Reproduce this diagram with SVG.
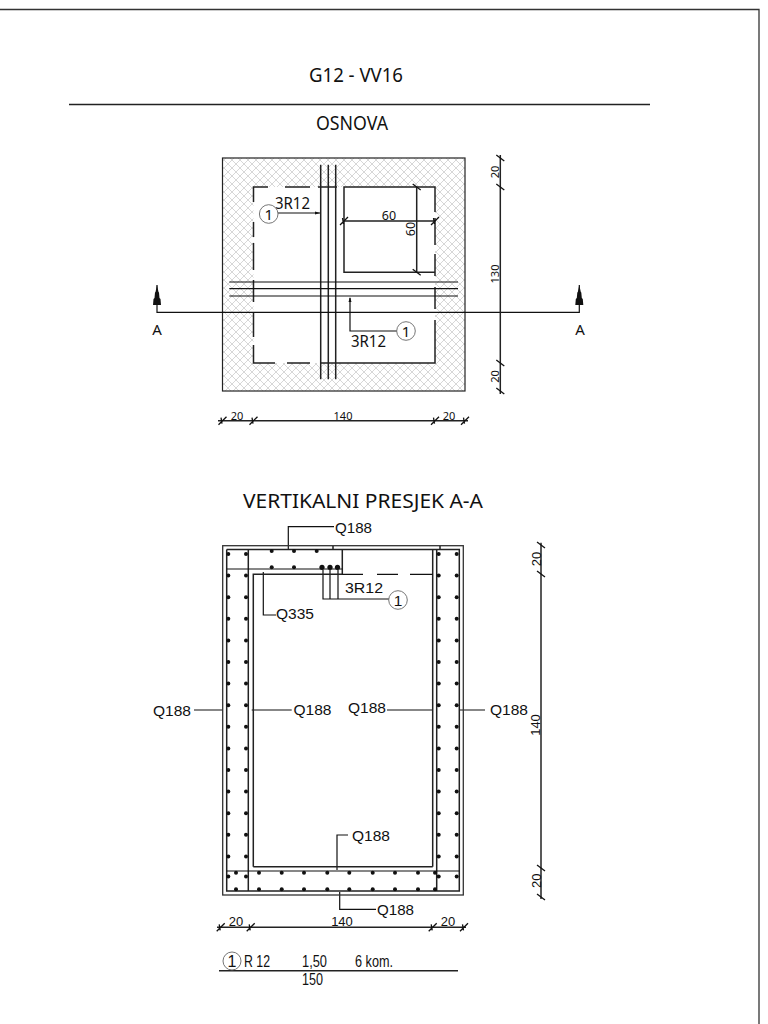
<svg xmlns="http://www.w3.org/2000/svg" width="768" height="1024" viewBox="0 0 768 1024">
<style>
.l{fill:none;stroke:#111;stroke-width:1.2}
.m{fill:none;stroke:#222;stroke-width:1.5}
.c{fill:#fff;stroke:#666;stroke-width:.9}
.t{font-family:"Noto Sans","DejaVu Sans",sans-serif;fill:#111}
.a{font-family:"Liberation Sans",Arial,sans-serif;fill:#111}
.d{fill:#111}
</style>
<defs>
<pattern id="hatch" width="8" height="8" patternUnits="userSpaceOnUse">
<path d="M0 0L8 8M8 0L0 8" stroke="#c6c6c6" stroke-width=".7" fill="none"/>
</pattern>
<path id="tick" d="M-4 4L4-4M-1.500-3L-.5 3" stroke="#111" stroke-width="1.300" fill="none"/>
<path id="tickv" d="M-4-3L4 3" stroke="#111" stroke-width="1.300" fill="none"/>
<path id="spike" d="M0-21L1.500-14L2-13.500L2.500-8L3.500-7L4-1H-4L-3.500-7L-2.500-8L-2-13.500L-1.500-14Z" fill="#111"/>
<circle id="dot" r="2" fill="#111"/>
</defs>
<rect width="768" height="1024" fill="#fff"/>
<g id="sheet">
<path d="M0 9.500H759V1024" fill="none" stroke="#333" stroke-width="1.300"/>
<path d="M69 104.500H650" class="m"/>
<text class="t" x="309" y="82" font-size="19" textLength="94" lengthAdjust="spacingAndGlyphs">G12 - VV16</text>
<text class="t" x="316" y="130" font-size="19" textLength="72" lengthAdjust="spacingAndGlyphs">OSNOVA</text>
<text class="t" x="243" y="508" font-size="20" textLength="240" lengthAdjust="spacingAndGlyphs">VERTIKALNI PRESJEK A-A</text>
</g>
<g id="plan">
<path fill="url(#hatch)" fill-rule="evenodd" d="M222.500 158H465V391H222.500ZM253.500 187V363H435V187Z"/>
<rect x="222.500" y="158" width="242.500" height="233" fill="none" stroke="#222" stroke-width="1.200"/>
<path class="m" d="M268 187H253.500V202M253.500 222V237M253.500 243V270M253.500 280V302M253.500 312V337M253.500 345V363H275M287 363H310M320.700 363H435V320M435 309V287M435 276V254M435 245V218M435 212V187H344V272.300H435M285 187H310M318 187H337"/>
<path class="m" d="M320.700 164.700V379.300M328.300 164.700V379.300M335.700 164.700V379.300"/>
<path class="l" d="M229.300 282H458M229.300 288.700H458M229.300 296H458"/>
</g>
<g id="connectors">
<path class="l" d="M157 285V312.300H579.300V285"/>
<path class="l" d="M278 213H320"/>
<path d="M320 213L315 211.500V214.500Z" fill="#111"/>
<path class="l" d="M350 298V331H397"/>
<path d="M350 297L348.500 302H351.500Z" fill="#111"/>
<path class="m" d="M344 221H435M416.700 187V272.300"/>
<path class="m" d="M500.300 155V394"/>
<path class="m" d="M218 420.700H468"/>
<use href="#spike" x="157" y="306"/>
<use href="#spike" x="579.300" y="306"/>
<path class="l" d="M323 570V599H389M330 570V599M338 570V599"/>
<path class="l" d="M288.300 549V526.700H334"/>
<path class="l" d="M263.300 572V615H276"/>
<path class="l" d="M194 710H223M251.700 710H291.700M387 710H433M460 710H485"/>
<path class="l" d="M337 870V835H348"/>
<path class="l" d="M339.700 892V909.300H376"/>
<path class="m" d="M217 927.300H466"/>
<path class="m" d="M541 542.700V899"/>
<path class="m" d="M219 970.700H458"/>
</g>
<g id="plan-ticks">
<use href="#tick" x="344" y="221"/><use href="#tick" x="435" y="221"/>
<use href="#tickv" x="416.700" y="187"/><use href="#tickv" x="416.700" y="272.300"/>
<use href="#tickv" x="500.300" y="158"/><use href="#tickv" x="500.300" y="187"/><use href="#tickv" x="500.300" y="363"/><use href="#tickv" x="500.300" y="391"/>
<use href="#tick" x="222.500" y="420.700"/><use href="#tick" x="253.500" y="420.700"/><use href="#tick" x="435" y="420.700"/><use href="#tick" x="465" y="420.700"/>
</g>
<g id="plan-labels">
<text class="t" x="275" y="209" font-size="16" textLength="35" lengthAdjust="spacingAndGlyphs">3R12</text>
<text class="t" x="351" y="346.500" font-size="16" textLength="35" lengthAdjust="spacingAndGlyphs">3R12</text>
<text class="t" x="389" y="220" font-size="12.500" text-anchor="middle">60</text>
<text class="t" font-size="12.500" text-anchor="middle" transform="translate(415 229) rotate(-90)">60</text>
<text class="t" font-size="11" text-anchor="middle" transform="translate(499 172) rotate(-90)">20</text>
<text class="t" font-size="11" text-anchor="middle" transform="translate(499 274) rotate(-90)">130</text>
<text class="t" font-size="11" text-anchor="middle" transform="translate(499 376.500) rotate(-90)">20</text>
<text class="t" x="237" y="420" font-size="11" text-anchor="middle">20</text>
<text class="t" x="343" y="420" font-size="11" text-anchor="middle">140</text>
<text class="t" x="449" y="420" font-size="11" text-anchor="middle">20</text>
<text class="t" x="157" y="334.500" font-size="15" text-anchor="middle">A</text>
<text class="t" x="580" y="334.500" font-size="15" text-anchor="middle">A</text>
</g>
<g id="marker-1a"><circle class="c" cx="268.700" cy="214" r="9.300"/><text class="t" x="268.700" y="219.500" font-size="15" text-anchor="middle">1</text></g>
<g id="marker-1b"><circle class="c" cx="406" cy="331" r="9.300"/><text class="t" x="406" y="336.500" font-size="15" text-anchor="middle">1</text></g>
<g id="section">
<rect x="222.700" y="545.700" width="240.600" height="349.300" fill="none" stroke="#333" stroke-width="1.300"/>
<path class="m" d="M226.700 549.500V891H459.300V549.500H440V546M440 549.500H333V546M333 549.500H226.700"/>
<path class="m" d="M248.300 549.500V891M253.300 866.700V574.300H342.300V549.500M253.300 866.700H432.700M432.700 549.500V866.700M436.700 549.500V891"/>
<path class="l" d="M226.700 569H342.300M226.700 871H459.300M342.300 574.300H363M377 574.300H398M410 574.300H432.700"/>
<g id="dots-top">
<use href="#dot" x="271.700" y="551"/><use href="#dot" x="294" y="551"/><use href="#dot" x="316.700" y="551"/>
<use href="#dot" x="271.700" y="567.300"/><use href="#dot" x="294" y="567.300"/>
<circle class="d" cx="322" cy="567.300" r="2.600"/><circle class="d" cx="330" cy="567.300" r="2.600"/><circle class="d" cx="337.500" cy="567.300" r="2.600"/>
</g>
<g id="dots-left">
<use href="#dot" x="228.300" y="554"/><use href="#dot" x="246" y="554"/><use href="#dot" x="228.300" y="575.600"/><use href="#dot" x="246" y="575.600"/><use href="#dot" x="228.300" y="597.200"/><use href="#dot" x="246" y="597.200"/><use href="#dot" x="228.300" y="618.800"/><use href="#dot" x="246" y="618.800"/><use href="#dot" x="228.300" y="640.400"/><use href="#dot" x="246" y="640.400"/><use href="#dot" x="228.300" y="662"/><use href="#dot" x="246" y="662"/><use href="#dot" x="228.300" y="683.600"/><use href="#dot" x="246" y="683.600"/><use href="#dot" x="228.300" y="705.200"/><use href="#dot" x="246" y="705.200"/><use href="#dot" x="228.300" y="726.800"/><use href="#dot" x="246" y="726.800"/><use href="#dot" x="228.300" y="748.400"/><use href="#dot" x="246" y="748.400"/><use href="#dot" x="228.300" y="770"/><use href="#dot" x="246" y="770"/><use href="#dot" x="228.300" y="791.600"/><use href="#dot" x="246" y="791.600"/><use href="#dot" x="228.300" y="813.200"/><use href="#dot" x="246" y="813.200"/><use href="#dot" x="228.300" y="834.800"/><use href="#dot" x="246" y="834.800"/><use href="#dot" x="228.300" y="856.400"/><use href="#dot" x="246" y="856.400"/><use href="#dot" x="228.300" y="876.500"/><use href="#dot" x="246" y="876.500"/>
</g>
<g id="dots-right">
<use href="#dot" x="438.700" y="554"/><use href="#dot" x="456.700" y="554"/><use href="#dot" x="438.700" y="575.600"/><use href="#dot" x="456.700" y="575.600"/><use href="#dot" x="438.700" y="597.200"/><use href="#dot" x="456.700" y="597.200"/><use href="#dot" x="438.700" y="618.800"/><use href="#dot" x="456.700" y="618.800"/><use href="#dot" x="438.700" y="640.400"/><use href="#dot" x="456.700" y="640.400"/><use href="#dot" x="438.700" y="662"/><use href="#dot" x="456.700" y="662"/><use href="#dot" x="438.700" y="683.600"/><use href="#dot" x="456.700" y="683.600"/><use href="#dot" x="438.700" y="705.200"/><use href="#dot" x="456.700" y="705.200"/><use href="#dot" x="438.700" y="726.800"/><use href="#dot" x="456.700" y="726.800"/><use href="#dot" x="438.700" y="748.400"/><use href="#dot" x="456.700" y="748.400"/><use href="#dot" x="438.700" y="770"/><use href="#dot" x="456.700" y="770"/><use href="#dot" x="438.700" y="791.600"/><use href="#dot" x="456.700" y="791.600"/><use href="#dot" x="438.700" y="813.200"/><use href="#dot" x="456.700" y="813.200"/><use href="#dot" x="438.700" y="834.800"/><use href="#dot" x="456.700" y="834.800"/><use href="#dot" x="438.700" y="856.400"/><use href="#dot" x="456.700" y="856.400"/><use href="#dot" x="438.700" y="876.500"/><use href="#dot" x="456.700" y="876.500"/>
</g>
<g id="dots-bottom">
<use href="#dot" x="236" y="872.700"/><use href="#dot" x="259" y="872.700"/><use href="#dot" x="281.700" y="872.700"/><use href="#dot" x="304" y="872.700"/><use href="#dot" x="327.300" y="872.700"/><use href="#dot" x="349.300" y="872.700"/><use href="#dot" x="372.700" y="872.700"/><use href="#dot" x="395" y="872.700"/><use href="#dot" x="418" y="872.700"/><use href="#dot" x="435" y="872.700"/>
<use href="#dot" x="236" y="889.300"/><use href="#dot" x="259" y="889.300"/><use href="#dot" x="281.700" y="889.300"/><use href="#dot" x="304" y="889.300"/><use href="#dot" x="327.300" y="889.300"/><use href="#dot" x="349.300" y="889.300"/><use href="#dot" x="372.700" y="889.300"/><use href="#dot" x="395" y="889.300"/><use href="#dot" x="418" y="889.300"/><use href="#dot" x="435" y="889.300"/>
</g>
</g>
<g id="section-ticks">
<use href="#tick" x="220.700" y="927.300"/><use href="#tick" x="250.700" y="927.300"/><use href="#tick" x="432.700" y="927.300"/><use href="#tick" x="464" y="927.300"/>
<use href="#tickv" x="541" y="545"/><use href="#tickv" x="541" y="574"/><use href="#tickv" x="541" y="868"/><use href="#tickv" x="541" y="897"/>
</g>
<g id="section-labels">
<text class="a" x="335" y="532.700" font-size="15.500" textLength="37" lengthAdjust="spacingAndGlyphs">Q188</text>
<text class="a" x="276" y="619.300" font-size="15.500" textLength="38" lengthAdjust="spacingAndGlyphs">Q335</text>
<text class="a" x="345" y="593" font-size="15.500" textLength="38" lengthAdjust="spacingAndGlyphs">3R12</text>
<text class="a" x="153" y="716" font-size="15.500" textLength="38" lengthAdjust="spacingAndGlyphs">Q188</text>
<text class="a" x="293.500" y="715" font-size="15.500" textLength="38" lengthAdjust="spacingAndGlyphs">Q188</text>
<text class="a" x="348" y="713" font-size="15.500" textLength="38" lengthAdjust="spacingAndGlyphs">Q188</text>
<text class="a" x="490" y="715" font-size="15.500" textLength="38" lengthAdjust="spacingAndGlyphs">Q188</text>
<text class="a" x="352" y="840.700" font-size="15.500" textLength="38" lengthAdjust="spacingAndGlyphs">Q188</text>
<text class="a" x="377" y="915" font-size="15.500" textLength="37" lengthAdjust="spacingAndGlyphs">Q188</text>
<text class="a" x="236" y="926" font-size="13" text-anchor="middle">20</text>
<text class="a" x="342" y="926" font-size="13" text-anchor="middle">140</text>
<text class="a" x="448" y="926" font-size="13" text-anchor="middle">20</text>
<text class="a" font-size="13" text-anchor="middle" transform="translate(541 559) rotate(-90)">20</text>
<text class="a" font-size="13" text-anchor="middle" transform="translate(540 725) rotate(-90)">140</text>
<text class="a" font-size="13" text-anchor="middle" transform="translate(541 880.700) rotate(-90)">20</text>
</g>
<g id="marker-1c"><circle class="c" cx="398" cy="600" r="9.300"/><text class="a" x="398" y="605.500" font-size="15.500" text-anchor="middle">1</text></g>
<g id="table">
<circle class="c" cx="232" cy="961" r="9"/>
<text class="a" x="232" y="966.700" font-size="16" text-anchor="middle">1</text>
<text class="a" x="244" y="966.700" font-size="16" textLength="26" lengthAdjust="spacingAndGlyphs">R 12</text>
<text class="a" x="302" y="966.700" font-size="16" textLength="25" lengthAdjust="spacingAndGlyphs">1,50</text>
<text class="a" x="355" y="966.700" font-size="16" textLength="38" lengthAdjust="spacingAndGlyphs">6 kom.</text>
<text class="a" x="302" y="985" font-size="16" textLength="21" lengthAdjust="spacingAndGlyphs">150</text>
</g>
</svg>
